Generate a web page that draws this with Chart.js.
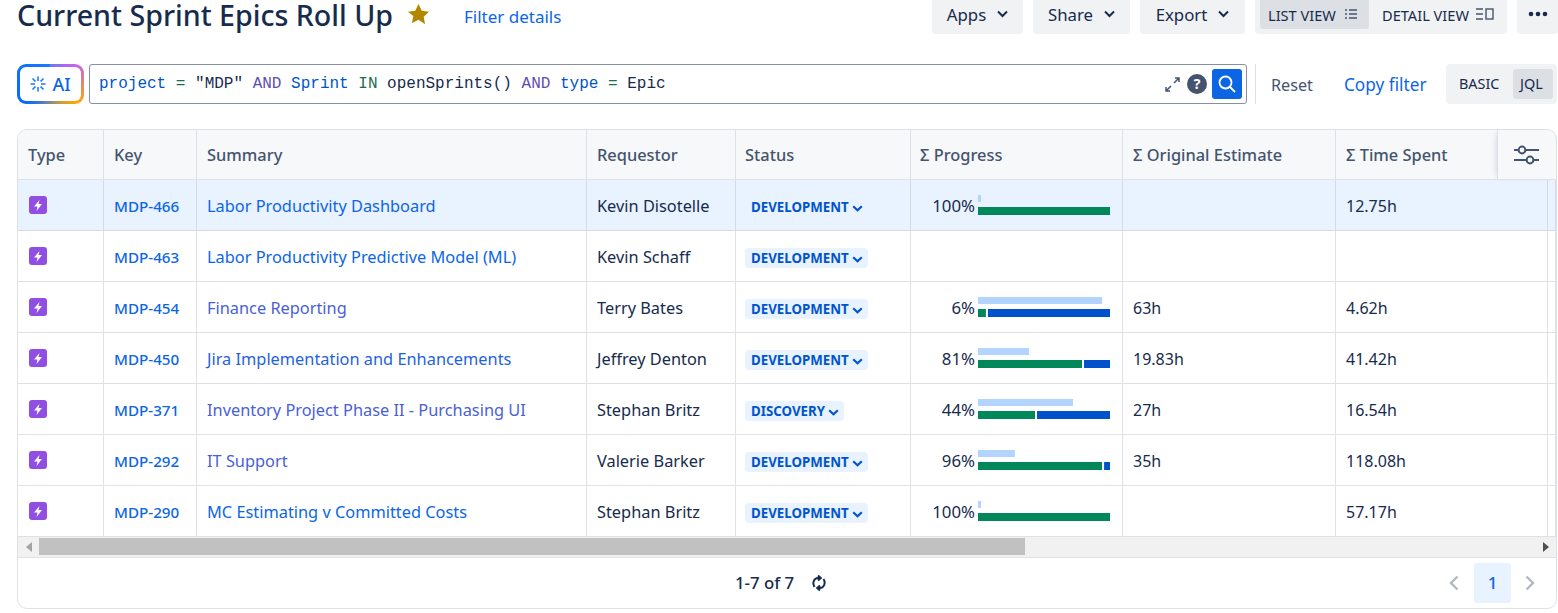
<!DOCTYPE html>
<html>
<head>
<meta charset="utf-8">
<title>Current Sprint Epics Roll Up</title>
<script src="https://cdn.jsdelivr.net/npm/chart.js@4"></script>
<style>
* { box-sizing: border-box; }
html, body { margin: 0; padding: 0; background: #fff; overflow: hidden; }
body { width: 1558px; height: 613px; position: relative; font-family: "Noto Sans", sans-serif; color: #172b4d; font-size: 16px; }
.abs { position: absolute; white-space: nowrap; }
h1 { margin: 0; font-size: 28.6px; font-weight: 500; left: 17px; top: 0; line-height: 30px; color: #172b4d; }
.link { color: #0c66e4; font-size: 17px; }
.btn { background: #f1f2f4; border-radius: 4px; display: flex; align-items: center; justify-content: center; gap: 11px; color: #172b4d; font-size: 16.8px; padding-bottom: 2px; }
.seg { background: #f1f2f4; border-radius: 4px; }
.sel { background: #dcdfe4; border-radius: 3px; }
.small { font-size: 14.6px; }
#ai { left: 17px; top: 64px; width: 67px; height: 40px; border-radius: 9px; padding: 3px; background: conic-gradient(from 0deg, #6a7af0 0deg, #bf63f3 50deg, #ffa900 125deg, #7a8a90 185deg, #0469ff 235deg, #1d7afc 360deg); }
#ai div { background: #fff; width: 100%; height: 100%; border-radius: 6px; display: flex; align-items: center; justify-content: center; gap: 6px; color: #0c66e4; font-size: 18px; font-weight: 500; }
#jql { left: 89px; top: 64px; width: 1158px; height: 40px; border: 1px solid #8590a2; border-radius: 3px; }
#code { left: 99px; top: 72px; font-family: "Liberation Mono", monospace; font-size: 16px; line-height: 24px; color: #172b4d; }
.kw { color: #5e4db2; } .fld { color: #0055cc; } .op { color: #216e4e; }
#wrap { left: 17px; top: 129px; width: 1540px; height: 480px; border: 1px solid #dfe1e6; border-radius: 10px; overflow: hidden; }
table { border-collapse: separate; border-spacing: 0; table-layout: fixed; width: 1538px; }
th, td { padding: 0 0 0 10px; text-align: left; white-space: nowrap; overflow: hidden; border-right: 1px solid #dfe1e6; border-bottom: 1px solid #dfe1e6; }
th { height: 50px; background: #f7f8f9; font-weight: 500; color: #44546f; font-size: 16.4px; }
th:nth-child(5), th:nth-child(6) { padding-left: 9px; }
td { height: 51px; font-size: 16px; padding-top: 2px; }
td.icon { padding-top: 0; }
tr.active td { background: #e9f2ff; border-color: #d3dbe8; }
td.key { color: #0c66e4; font-size: 15.2px; font-weight: 500; }
td.name { font-size: 16.35px; }
td.pct { text-align: right; padding: 0 147px 0 0; font-size: 16.8px; }
.badge { display: inline-block; background: #e9f2ff; color: #0055cc; font-size: 13.3px; font-weight: 700; line-height: 20px; height: 20px; padding: 0 5px 0 6px; border-radius: 4px; vertical-align: middle; }
.epic { display: block; width: 18px; height: 18px; background: #904ee2; border-radius: 3px; margin: 0 0 0 1px; }
#cog { left: 1497px; top: 130px; width: 59px; height: 50px; background: #f7f8f9; border-left: 1px solid #dfe1e6; border-bottom: 1px solid #dfe1e6; box-shadow: -4px 0 6px -4px rgba(9,30,66,.18); border-top-right-radius: 10px; display: flex; align-items: center; justify-content: center; padding-right: 3px; }
#track { left: 18px; top: 537px; width: 1538px; height: 21px; background: #f1f1f1; border-bottom: 1px solid #dfe1e6; }
#thumb { left: 39px; top: 538px; width: 986px; height: 17px; background: #c1c1c1; }
#bars { position: absolute; left: 978px; top: 179px; pointer-events: none; }
</style>
</head>
<body>
<h1 class="abs">Current Sprint Epics Roll Up</h1>
<svg class="abs" style="left:407px;top:3px" width="23" height="22" viewBox="0 0 24 23"><path fill="#b38600" d="M12 1l3.4 7.2 7.6 1-5.6 5.3 1.5 7.8L12 17.5l-6.9 3.8 1.5-7.8L1 9.2l7.6-1z"/></svg>
<div class="abs link" style="left:464px;top:5px;line-height:24px">Filter details</div>

<div class="abs btn" style="left:932px;top:-4px;width:91px;height:38px">Apps <svg width="11" height="8" viewBox="0 0 11 8"><path d="M1 1.5l4.5 4.5L10 1.5" fill="none" stroke="#172b4d" stroke-width="2"/></svg></div>
<div class="abs btn" style="left:1033px;top:-4px;width:97px;height:38px">Share <svg width="11" height="8" viewBox="0 0 11 8"><path d="M1 1.5l4.5 4.5L10 1.5" fill="none" stroke="#172b4d" stroke-width="2"/></svg></div>
<div class="abs btn" style="left:1140px;top:-4px;width:105px;height:38px">Export <svg width="11" height="8" viewBox="0 0 11 8"><path d="M1 1.5l4.5 4.5L10 1.5" fill="none" stroke="#172b4d" stroke-width="2"/></svg></div>
<div class="abs seg" style="left:1255px;top:-4px;width:252px;height:38px"></div>
<div class="abs sel" style="left:1260px;top:-4px;width:109px;height:33px"></div>
<div class="abs small" style="left:1268px;top:5px;line-height:20px">LIST VIEW</div>
<svg class="abs" style="left:1345px;top:9px" width="12" height="10" viewBox="0 0 12 10"><path d="M0 1h2M4 1h8M0 5h2M4 5h8M0 9h2M4 9h8" stroke="#44546f" stroke-width="1.3"/></svg>
<div class="abs small" style="left:1382px;top:5px;line-height:20px">DETAIL VIEW</div>
<svg class="abs" style="left:1476px;top:8px" width="18" height="12" viewBox="0 0 18 12"><path d="M0 1h7M0 6h7M0 11h7" stroke="#44546f" stroke-width="1.4"/><rect x="10" y="1" width="7" height="10" fill="none" stroke="#44546f" stroke-width="1.4"/></svg>
<div class="abs btn" style="left:1517px;top:-4px;width:41px;height:38px"><svg width="20" height="6" viewBox="0 0 20 6"><circle cx="3" cy="3" r="2.3" fill="#172b4d"/><circle cx="10" cy="3" r="2.3" fill="#172b4d"/><circle cx="17" cy="3" r="2.3" fill="#172b4d"/></svg></div>

<div id="ai" class="abs"><div><svg width="16" height="16" viewBox="0 0 16 16"><path d="M8 0.5v4.5M8 11v4.5M0.5 8h4.5M11 8h4.5M2.5 2.5l3 3M10.5 10.5l3 3M13.5 2.5l-3 3M5.5 10.5l-3 3" stroke="#1d7afc" stroke-width="1.6"/></svg>AI</div></div>
<div id="jql" class="abs"></div>
<div id="code" class="abs"><span class="fld">project</span> <span class="op">=</span> "MDP" <span class="kw">AND</span> <span class="fld">Sprint</span> <span class="op">IN</span> openSprints() <span class="kw">AND</span> <span class="fld">type</span> <span class="op">=</span> Epic</div>
<svg class="abs" style="left:1165px;top:77px" width="15" height="15" viewBox="0 0 15 15"><path d="M9 6l5-5M10 1h4v4M6 9l-5 5M1 10v4h4" fill="none" stroke="#44546f" stroke-width="1.5"/></svg>
<svg class="abs" style="left:1187px;top:74px" width="20" height="20" viewBox="0 0 20 20"><circle cx="10" cy="10" r="10" fill="#44546f"/><text x="10" y="15" text-anchor="middle" font-size="14" font-weight="700" fill="#fff" font-family="Noto Sans">?</text></svg>
<div class="abs" style="left:1212px;top:69px;width:30px;height:30px;background:#0c66e4;border-radius:3px"><svg style="margin:6px" width="18" height="18" viewBox="0 0 18 18"><circle cx="7.5" cy="7.5" r="6" fill="none" stroke="#fff" stroke-width="1.8"/><path d="M12 12l5 5" stroke="#fff" stroke-width="1.8"/></svg></div>
<div class="abs" style="left:1255px;top:64px;width:1px;height:40px;background:#dcdfe4"></div>
<div class="abs" style="left:1271px;top:73px;line-height:24px;color:#44546f;font-size:16.2px">Reset</div>
<div class="abs link" style="left:1344px;top:73px;line-height:24px;font-size:17.2px">Copy filter</div>
<div class="abs seg" style="left:1446px;top:64px;width:111px;height:40px"></div>
<div class="abs sel" style="left:1513px;top:69px;width:40px;height:30px"></div>
<div class="abs small" style="left:1459px;top:74px;line-height:20px;font-size:14.4px">BASIC</div>
<div class="abs small" style="left:1520px;top:74px;line-height:20px;font-size:14.4px">JQL</div>

<div id="wrap" class="abs"><table id="grid"><colgroup id="cols"></colgroup><thead><tr id="head"></tr></thead><tbody id="rows"></tbody></table></div>
<div id="cog" class="abs"><svg width="26" height="20" viewBox="0 0 26 20"><path d="M1 5h25M1 15h25" stroke="#44546f" stroke-width="2"/><circle cx="9" cy="5" r="3.4" fill="#f7f8f9" stroke="#44546f" stroke-width="2"/><circle cx="17" cy="15" r="3.4" fill="#f7f8f9" stroke="#44546f" stroke-width="2"/></svg></div>

<canvas id="bars" width="132" height="358"></canvas>

<div id="track" class="abs"></div>
<div id="thumb" class="abs"></div>
<svg class="abs" style="left:26px;top:542px" width="6" height="10"><path d="M6 0v10L0 5z" fill="#a3a3a3"/></svg>
<svg class="abs" style="left:1543px;top:542px" width="6" height="10"><path d="M0 0v10l6-5z" fill="#505050"/></svg>
<div class="abs" style="left:735px;top:571px;line-height:24px;font-weight:500;font-size:16.8px">1-7 of 7</div>
<svg class="abs" style="left:811px;top:575px" width="16" height="16" viewBox="0 0 16 16"><path d="M3.5 12C1 8 3 3 7 3h2M7 0.5l2.8 2.5L7 5.500M12.500 4c2.500 4 0.500 9-3.500 9H7M9 15.500L6.200 13 9 10.500" fill="none" stroke="#172b4d" stroke-width="2"/></svg>
<svg class="abs" style="left:1449px;top:575px" width="10" height="16" viewBox="0 0 10 16"><path d="M8.5 1.5L2 8l6.500 6.500" fill="none" stroke="#b3b9c4" stroke-width="2.4"/></svg>
<div class="abs" style="left:1474px;top:563px;width:37px;height:40px;background:#e9f2ff;border-radius:3px;text-align:center;line-height:40px;color:#0c66e4;font-weight:500;font-size:17px">1</div>
<svg class="abs" style="left:1525px;top:575px" width="10" height="16" viewBox="0 0 10 16"><path d="M1.500 1.500L8 8l-6.500 6.500" fill="none" stroke="#b3b9c4" stroke-width="2.4"/></svg>

<script>
// table content
const columns = ['Type', 'Key', 'Summary', 'Requestor', 'Status', 'Σ Progress', 'Σ Original Estimate', 'Σ Time Spent', ''];
const colWidths = [86, 93, 390, 149, 175, 212, 213, 212, 8];
const keys = ['MDP-466', 'MDP-463', 'MDP-454', 'MDP-450', 'MDP-371', 'MDP-292', 'MDP-290'];
const summaries = ['Labor Productivity Dashboard', 'Labor Productivity Predictive Model (ML)', 'Finance Reporting', 'Jira Implementation and Enhancements', 'Inventory Project Phase II - Purchasing UI', 'IT Support', 'MC Estimating v Committed Costs'];
const summaryColors = ['#0c66e4', '#0c66e4', '#4a5fd6', '#1f62e0', '#4a5fd6', '#4a5fd6', '#0c66e4'];
const requestors = ['Kevin Disotelle', 'Kevin Schaff', 'Terry Bates', 'Jeffrey Denton', 'Stephan Britz', 'Valerie Barker', 'Stephan Britz'];
const statuses = ['DEVELOPMENT', 'DEVELOPMENT', 'DEVELOPMENT', 'DEVELOPMENT', 'DISCOVERY', 'DEVELOPMENT', 'DEVELOPMENT'];
const progressLabels = ['100%', '', '6%', '81%', '44%', '96%', '100%'];
const originalEstimates = ['', '', '63h', '19.83h', '27h', '35h', ''];
const timeSpent = ['12.75h', '', '4.62h', '41.42h', '16.54h', '118.08h', '57.17h'];

// bar lengths, percent of the cell's bar width
const estimateBar = [2.3, null, 94, 38.6, 72, 28, 2.3];
const doneBar = [100, null, 6, 78.8, 43.2, 94, 100];
const remainingBar = [null, null, 94, 21.2, 56.8, 6, null];

const chevron = '<svg width="11" height="7" viewBox="0 0 11 7" style="margin-left:3px;vertical-align:0"><path d="M1.2 1.2l4.300 4L9.800 1.200" fill="none" stroke="#0055cc" stroke-width="2.2"/></svg>';
const epicIcon = '<span class="epic"><svg width="18" height="18" viewBox="0 0 18 18" style="display:block"><path d="M10.500 4L5 10.500h3.500L7.500 15 13 8H9.500z" fill="#fff"/></svg></span>';

document.getElementById('cols').innerHTML = colWidths.map(w => `<col style="width:${w}px">`).join('');
document.getElementById('head').innerHTML = columns.map(c => `<th>${c}</th>`).join('');
document.getElementById('rows').innerHTML = keys.map((key, i) => `
  <tr class="${i === 0 ? 'active' : ''}">
    <td class="icon">${epicIcon}</td>
    <td class="key">${key}</td>
    <td class="name" style="color:${summaryColors[i]}">${summaries[i]}</td>
    <td class="name">${requestors[i]}</td>
    <td style="padding-left:9px"><span class="badge">${statuses[i]}${chevron}</span></td>
    <td class="pct">${progressLabels[i]}</td>
    <td>${originalEstimates[i]}</td>
    <td>${timeSpent[i]}</td>
    <td></td>
  </tr>`).join('');

// Progress bars
new Chart(document.getElementById('bars').getContext('2d'), {
    type: 'bar',
    data: {
        labels: keys,
        datasets: [
            { label: 'Estimate', data: estimateBar, stack: 'estimate', backgroundColor: '#b3d4ff',
              categoryPercentage: 25 / 51, barPercentage: 7 / 12.5 },
            { label: 'Done', data: doneBar, stack: 'progress', backgroundColor: '#00875a',
              categoryPercentage: 25 / 51, barPercentage: 8 / 12.5 },
            { label: 'Remaining', data: remainingBar, stack: 'progress', backgroundColor: '#0052cc',
              categoryPercentage: 25 / 51, barPercentage: 8 / 12.5,
              borderColor: 'rgba(0,0,0,0)', borderWidth: { left: 2, top: 0, right: 0, bottom: 0 }, borderSkipped: false }
        ]
    },
    options: {
        indexAxis: 'y',
        responsive: false,
        animation: false,
        devicePixelRatio: 1,
        layout: { padding: { top: 0.25, bottom: 0.75, left: 0, right: 0 } },
        plugins: { legend: { display: false }, tooltip: { enabled: false } },
        scales: {
            x: { display: false, stacked: true, min: 0, max: 100 },
            y: { display: false, stacked: true }
        }
    }
});
</script>
</body>
</html>
